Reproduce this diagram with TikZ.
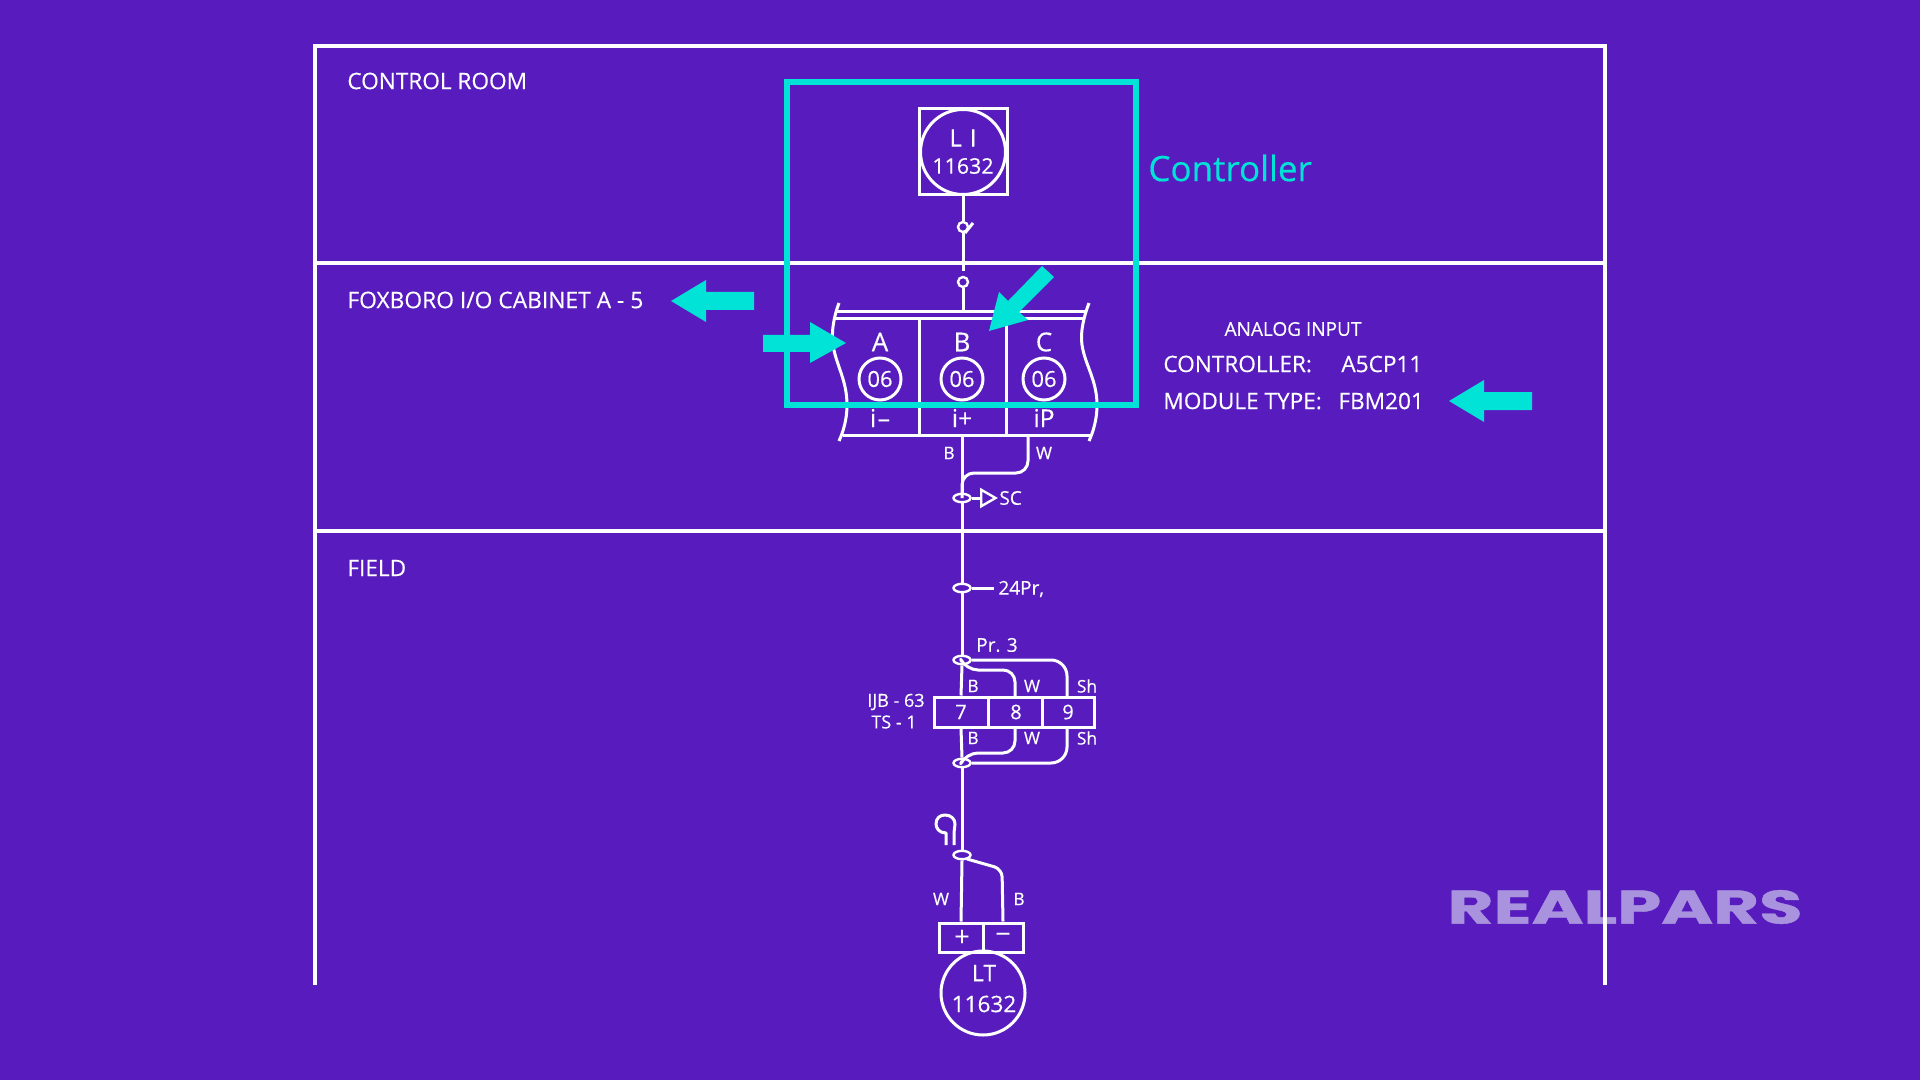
\documentclass[tikz,border=0pt]{standalone}
\usepackage{fontspec}
\setmainfont[FakeBold=0.35]{Open Sans}
\newfontfamily\logofont[BoldFeatures={FakeBold=0.8}]{Poppins}
\usetikzlibrary{shapes.geometric}
\definecolor{bgc}{HTML}{581CBE}
\definecolor{teal1}{HTML}{02E3D7}
\definecolor{logoc}{HTML}{A993DE}
\newcommand{\fsz}[1]{\fontsize{#1}{#1}\selectfont}
\tikzset{
  x=0.5pt,y=-0.5pt,
  wire/.style={draw=white,line width=1.5pt,line join=round},
  frameline/.style={draw=white,line width=1.6pt},
  lab/.style={text=white,inner sep=0pt,font=\fsz{11}},
  big/.style={text=white,inner sep=0pt,font=\fsz{11.3}},
  small/.style={text=white,inner sep=0pt,font=\fsz{8.7}},
  ring/.style={draw=white,line width=1.5pt,circle,inner sep=0pt,text=white},
  tiny/.style={draw=white,line width=1.2pt,circle,inner sep=0pt,minimum size=5pt},
  oval/.style={draw=white,line width=1.2pt,ellipse,inner sep=0pt,minimum width=8.5pt,minimum height=4.2pt},
  cell/.style={draw=white,line width=1.5pt,inner sep=0pt,text=white},
  tealarrow/.style={fill=teal1,draw=none},
}
\begin{document}
\begin{tikzpicture}
\useasboundingbox (0,0) rectangle (1920,1080);
\fill[bgc] (0,0) rectangle (1920,1080);
% logo under the frame
\node[text=logoc,inner sep=0pt,anchor=center,xscale=1.5,font=\logofont\bfseries\fsz{23.5}] (logo) at (1625,907) {REALPARS};
% frame
\coordinate (fbl) at (315,985);
\coordinate (ftl) at (315,46);
\coordinate (ftr) at (1605,46);
\coordinate (fbr) at (1605,985);
\draw[frameline] (fbl) -- (ftl) -- (ftr) -- (fbr);
\coordinate (r1l) at (315,263); \coordinate (r1r) at (1605,263);
\coordinate (r2l) at (315,531); \coordinate (r2r) at (1605,531);
\draw[frameline] (r1l) -- (r1r);
\draw[frameline] (r2l) -- (r2r);
% region labels
\node[big,anchor=west] (tcr) at (347,81) {CONTROL ROOM};
\node[big,anchor=west,font=\fsz{11.4}] (tfx) at (347,300) {FOXBORO I/O CABINET A - 5};
\node[big,anchor=west] (tfd) at (347,568) {FIELD};
% instrument LI
\node[cell,minimum width=44pt,minimum height=43pt] (libox) at (963,152) {};
\node[ring,minimum size=42.5pt,align=center] (li) at (963,152) {};
\node[text=white,inner sep=0pt,font=\fsz{12}] (lit1) at (963,138) {L\,\,I};
\node[text=white,inner sep=0pt,font=\fsz{10.7}] (lit2) at (963,166) {11632};
\node[tiny] (sw1) at (963,227) {};
\coordinate (tick1) at (965,233); \coordinate (tick2) at (973,223);
\draw[wire] (tick1) -- (tick2);
\node[tiny] (sw2) at (963,282) {};
\coordinate (captop) at (963,312);
\draw[wire] (libox.south) -- (sw1.north);
\draw[wire] (sw1.south) -- (963,271);
\draw[wire] (sw2.south) -- (captop);
% cabinet
\draw[wire] (837,312) -- (1085,312);
\draw[wire] (835,319) -- (1083,319);
\draw[wire] (843,435) -- (1092,435);
\draw[wire] (919,319) -- (919,435);
\draw[wire] (1006,319) -- (1006,435);
\draw[wire] (839,303) .. controls (834,316) and (831,332) .. (833,345) .. controls (836,365) and (847,380) .. (847,405) .. controls (847,420) and (843,432) .. (839,441);
\draw[wire] (1089,303) .. controls (1084,316) and (1080,332) .. (1082,345) .. controls (1085,365) and (1097,380) .. (1097,405) .. controls (1097,420) and (1093,432) .. (1089,441);
\foreach \n/\x/\l/\b in {a/880/A/{i\kern0.8pt–},b/962/B/i+,c/1044/C/iP}{
  \node[text=white,inner sep=0pt,font=\fsz{13}] (let\n) at (\x,342) {\l};
  \node[ring,minimum size=21pt,font=\fsz{11}] (cir\n) at (\x,379) {06};
  \node[text=white,inner sep=0pt,font=\fsz{12.3}] (bot\n) at (\x,418) {\b};
}
% teal controller box
\node[draw=teal1,line width=2.8pt,inner sep=0pt,minimum width=174.5pt,minimum height=161.5pt] (ctrl) at (961.5,243.5) {};
\node[text=teal1,inner sep=0pt,anchor=west,font=\fsz{17.5}] (tctrl) at (1148,168) {Controller};
% teal arrows
\fill[tealarrow] (671,301) -- (706,280) -- (706,292) -- (754,292) -- (754,310) -- (706,310) -- (706,322) -- cycle;
\fill[tealarrow] (846,343) -- (810,322) -- (810,335) -- (763,335) -- (763,352) -- (810,352) -- (810,363) -- cycle;
\fill[tealarrow] (989,331) -- (999,292) -- (1008,301) -- (1042,266) -- (1054,277) -- (1019,312) -- (1028,320) -- cycle;
\fill[tealarrow] (1449,401) -- (1484,380) -- (1484,392) -- (1532,392) -- (1532,410) -- (1484,410) -- (1484,422) -- cycle;
% right text
\node[text=white,inner sep=0pt,anchor=center,font=\fsz{9.5}] (tai) at (1293,329) {ANALOG INPUT};
\node[big,anchor=west] (tc1) at (1163,364) {CONTROLLER:};
\node[big,anchor=west] (tc2) at (1341,364) {A5CP11};
\node[big,anchor=west] (tm1) at (1163,401) {MODULE TYPE:};
\node[big,anchor=west] (tm2) at (1338,401) {FBM201};
% trunk
\coordinate (cabb) at (962,435);
\node[oval] (ov1) at (962,498) {};
\node[oval] (ov2) at (962,588) {};
\node[oval] (ov3) at (962,660) {};
\node[oval] (ov4) at (962,763) {};
\node[oval] (ov5) at (962,855) {};
% terminal block
\node[cell,minimum width=27pt,minimum height=15pt] (t7) at (961,712) {\fsz{10}7};
\node[cell,minimum width=27pt,minimum height=15pt] (t8) at (1015,712) {\kern1pt\fsz{10}8};
\node[cell,minimum width=26pt,minimum height=15pt] (t9) at (1068,712) {\fsz{10}9};
% transmitter
\node[cell,minimum width=22pt,minimum height=14.5pt] (tp) at (961,937.5) {};
\node[cell,minimum width=20pt,minimum height=14.5pt] (tm) at (1003,937.5) {};
\node[text=white,inner sep=0pt,font=\fsz{13.5}] (tpl) at (962,938) {+};
\node[text=white,inner sep=0pt,font=\fsz{13.5}] (tml) at (1003,938) {−};
\node[ring,minimum size=42pt] (lt) at (983,993) {};
\node[text=white,inner sep=0pt,font=\fsz{11.5}] (lt1) at (984,973) {LT};
\node[text=white,inner sep=0pt,font=\fsz{11.3}] (lt2) at (984,1004) {11632};
% main wires
\draw[wire] (cabb) -- (ov1.north);
\draw[wire] (ov1.south) -- (ov2.north);
\draw[wire] (ov2.south) -- (ov3.north);
\draw[wire] (ov3.south) -- (t7.north);
\draw[wire] (t7.south) -- (ov4.north);
\draw[wire] (ov4.south) -- (ov5.north);
\draw[wire] (ov5.south) -- (tp.north);
% W return
\coordinate (wtop) at (1028,435);
\draw[wire,rounded corners=6pt] (wtop) -- (1028,473) -- (962,473) -- (962,498);
% SC
\node[regular polygon,regular polygon sides=3,shape border rotate=-90,draw=white,line width=1.2pt,inner sep=0pt,minimum size=9.5pt] (sct) at (986,498) {};
\draw[wire] (ov1.east) -- (sct.west);
\node[small,anchor=west] (sc) at (999,498) {\fsz{9.5}SC};
\coordinate (p24) at (994,588);
\draw[wire] (ov2.east) -- (p24);
\node[small,anchor=west] (t24) at (998,589) {\fsz{9.5}24Pr,};
\node[small,font=\fsz{9.5}] (tpr) at (997,645) {Pr.\,\,3};
% junction wires
\coordinate (j8t) at (1015,697); \coordinate (j9t) at (1067,697);
\coordinate (j8b) at (1015,727); \coordinate (j9b) at (1067,727);
\draw[wire,rounded corners=8pt] (ov3.east) -- (1067,660) -- (j9t);
\draw[wire,rounded corners=6pt] (962,662) -- (966,670) -- (1015,670) -- (j8t);
\draw[wire,rounded corners=8pt] (ov4.east) -- (1067,763) -- (j9b);
\draw[wire,rounded corners=6pt] (962,761) -- (966,753) -- (1015,753) -- (j8b);
\foreach \y/\q in {686/u,738/d}{
  \node[small] (b\q) at (973,\y) {B};
  \node[small] (w\q) at (1032,\y) {W};
  \node[small] (s\q) at (1087,\y) {Sh};
}
\node[text=white,inner sep=0pt,font=\fsz{9}] (ijb) at (896,702) {IJB - 63};
\node[text=white,inner sep=0pt,font=\fsz{9}] (ts) at (894,722) {TS - 1};
\node[small] (lb1) at (949,453) {B};
\node[small] (lw1) at (1044,453) {W};
\node[small] (lw2) at (941,899) {W};
\node[small] (lb2) at (1019,899) {B};
% transmitter wires
\coordinate (hk1) at (946,845); \coordinate (hk2) at (954,845);
\draw[wire] (hk1) -- (946,833) .. controls (939,833) and (936,828) .. (936,824) .. controls (936,818) and (940,815) .. (945,815) .. controls (951,815) and (955,819) .. (955,824) -- (954,833) -- (hk2);
\coordinate (ov5k) at (967,859);
\draw[wire,rounded corners=4pt] (ov5k) -- (1002,869) -- (tm.north);
\end{tikzpicture}
\end{document}
